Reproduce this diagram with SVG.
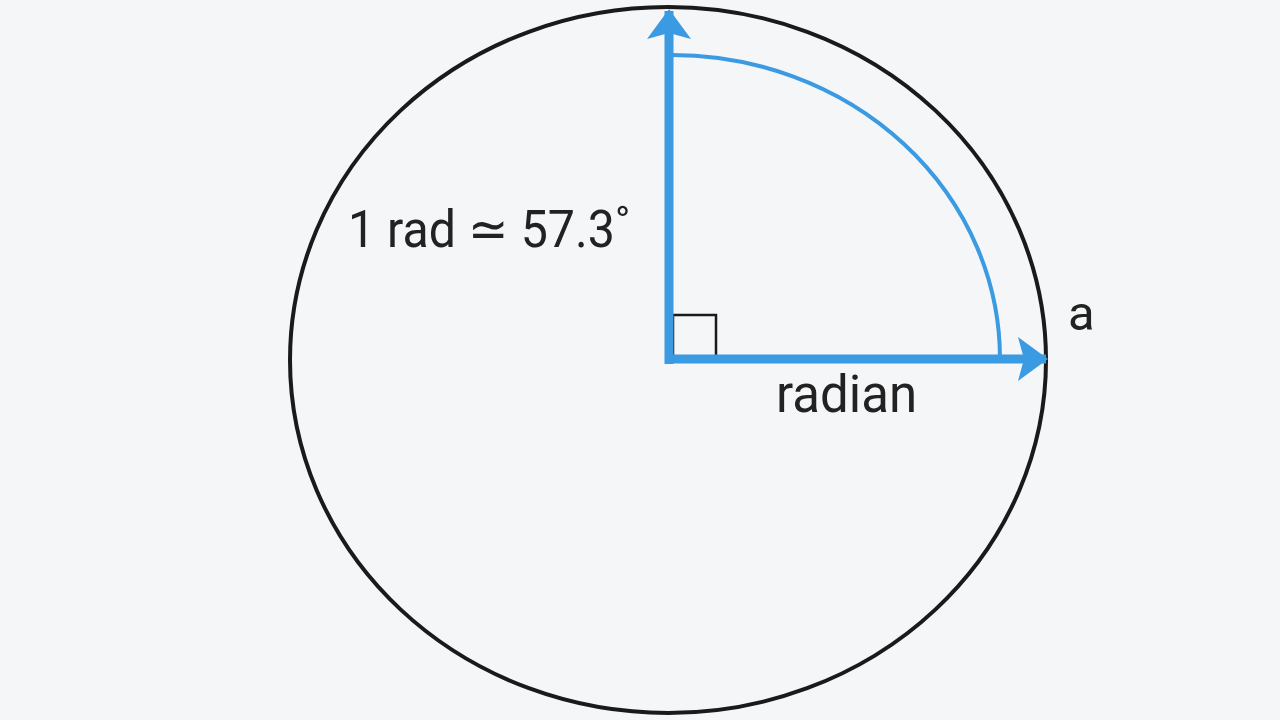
<svg xmlns="http://www.w3.org/2000/svg" width="1280" height="720" viewBox="0 0 1280 720">
<style>
.lbl{font-family:Roboto,"Liberation Sans",sans-serif;fill:#222;}
.blue{stroke:#3a9ae2;fill:none;}
</style>
<defs>
<marker id="ah" markerUnits="userSpaceOnUse" viewBox="0 0 30 44" refX="28" refY="22" markerWidth="30" markerHeight="44" orient="auto">
<path d="M0,0 L30,22 L0,44 L6,22 Z" fill="#3a9ae2"/>
</marker>
</defs>
<rect width="1280" height="720" fill="#f5f6f7"/>
<g id="circle">
<ellipse cx="668" cy="360" rx="378" ry="353" fill="none" stroke="#1a1a1a" stroke-width="4"/>
</g>
<g id="right-angle">
<polyline points="673,359 673,315 716,315 716,359" fill="none" stroke="#1a1a1a" stroke-width="2.5"/>
</g>
<g id="connectors">
<path class="blue" d="M672,55 A328,304 0 0 1 1000,359" stroke-width="4"/>
<line class="blue" x1="669" y1="364" x2="669" y2="11" stroke-width="9" marker-end="url(#ah)"/>
<line class="blue" x1="665" y1="359" x2="1046" y2="359" stroke-width="9" marker-end="url(#ah)"/>
</g>
<g id="labels">
<text class="lbl" x="348" y="247" font-size="52" textLength="283" lengthAdjust="spacingAndGlyphs">1 rad ≃ 57.3˚</text>
<text class="lbl" x="776" y="412" font-size="51">radian</text>
<text class="lbl" x="1068" y="330" font-size="49">a</text>
</g>
</svg>
